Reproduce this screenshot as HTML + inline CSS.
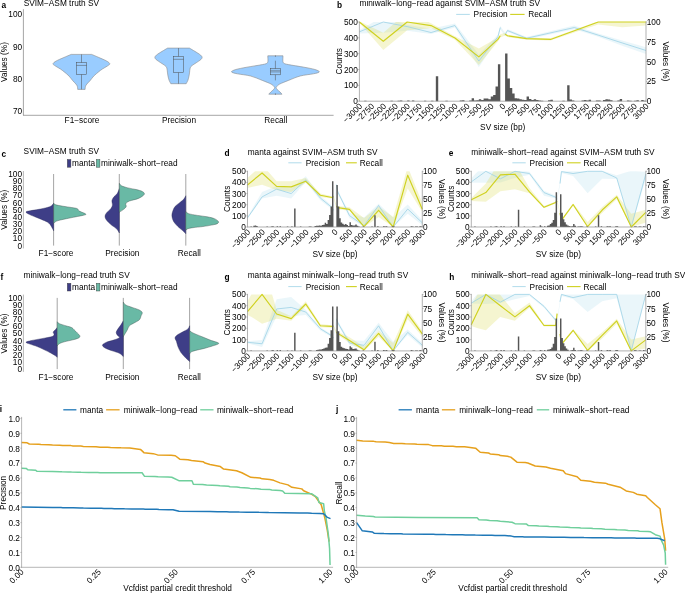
<!DOCTYPE html>
<html lang="en">
<head>
<meta charset="utf-8">
<title>SV benchmark figure</title>
<style>
html,body{margin:0;padding:0;background:#fff;}
body{width:685px;height:594px;overflow:hidden;}
svg{display:block;}
svg text{font-family:"Liberation Sans",sans-serif;fill:#000000;}
</style>
</head>
<body>
<svg width="685" height="594" viewBox="0 0 685 594">
<rect width="685" height="594" fill="#ffffff"/>
<text x="1.6" y="7.6" font-size="8.3" font-weight="bold">a</text>
<text x="23.7" y="5.9" font-size="8.3">SVIM−ASM truth SV</text>
<line x1="23.4" y1="9.2" x2="23.4" y2="115.3" stroke="#808080" stroke-width="0.7"/>
<line x1="23.05" y1="115.3" x2="333.6" y2="115.3" stroke="#808080" stroke-width="0.7"/>
<text x="22.2" y="17.2" font-size="8.3" text-anchor="end">100</text>
<text x="22.2" y="49.5" font-size="8.3" text-anchor="end">90</text>
<text x="22.2" y="81.8" font-size="8.3" text-anchor="end">80</text>
<text x="22.2" y="114.1" font-size="8.3" text-anchor="end">70</text>
<text x="7" y="62" font-size="8.3" text-anchor="middle" transform="rotate(-90 7 62)">Values (%)</text>
<text x="82" y="122.6" font-size="8.3" text-anchor="middle">F1−score</text>
<text x="179" y="122.6" font-size="8.3" text-anchor="middle">Precision</text>
<text x="275.9" y="122.6" font-size="8.3" text-anchor="middle">Recall</text>
<path d="M71.2,54.4C69.98,54.92 66.4,56.4 63.9,57.5C61.4,58.6 58.02,59.95 56.2,61C54.38,62.05 53.13,62.97 53,63.8C52.87,64.63 54.17,65.13 55.4,66C56.63,66.87 58.97,68.05 60.4,69C61.83,69.95 62.57,70.53 64,71.7C65.43,72.87 67.57,74.53 69,76C70.43,77.47 71.45,79.17 72.6,80.5C73.75,81.83 75.12,83.03 75.9,84C76.68,84.97 77.02,85.58 77.3,86.3C77.58,87.02 77.53,87.78 77.6,88.3C77.67,88.82 77.68,89.22 77.7,89.4L85.1,89.4C85.12,89.22 85.13,88.82 85.2,88.3C85.27,87.78 85.22,87.02 85.5,86.3C85.78,85.58 86.12,84.97 86.9,84C87.68,83.03 89.05,81.83 90.2,80.5C91.35,79.17 92.37,77.47 93.8,76C95.23,74.53 97.37,72.87 98.8,71.7C100.23,70.53 100.97,69.95 102.4,69C103.83,68.05 106.17,66.87 107.4,66C108.63,65.13 109.93,64.63 109.8,63.8C109.67,62.97 108.42,62.05 106.6,61C104.78,59.95 101.4,58.6 98.9,57.5C96.4,56.4 92.82,54.92 91.6,54.4Z" fill="#99ccff" stroke="#8a8a8a" stroke-width="0.6" stroke-linejoin="round"/>
<path d="M167.6,48.1C166.92,48.5 164.78,49.73 163.5,50.5C162.22,51.27 161.1,51.92 159.9,52.7C158.7,53.48 157.13,54.45 156.3,55.2C155.47,55.95 154.93,56.48 154.9,57.2C154.87,57.92 155.12,58.57 156.1,59.5C157.08,60.43 159.33,61.8 160.8,62.8C162.27,63.8 163.9,64.65 164.9,65.5C165.9,66.35 166.37,66.67 166.8,67.9C167.23,69.13 167.27,71.38 167.5,72.9C167.73,74.42 167.92,75.73 168.2,77C168.48,78.27 168.87,79.58 169.2,80.5C169.53,81.42 169.93,81.97 170.2,82.5C170.47,83.03 170.7,83.5 170.8,83.7L186.2,83.7C186.3,83.5 186.53,83.03 186.8,82.5C187.07,81.97 187.47,81.42 187.8,80.5C188.13,79.58 188.52,78.27 188.8,77C189.08,75.73 189.27,74.42 189.5,72.9C189.73,71.38 189.77,69.13 190.2,67.9C190.63,66.67 191.1,66.35 192.1,65.5C193.1,64.65 194.73,63.8 196.2,62.8C197.67,61.8 199.92,60.43 200.9,59.5C201.88,58.57 202.13,57.92 202.1,57.2C202.07,56.48 201.53,55.95 200.7,55.2C199.87,54.45 198.3,53.48 197.1,52.7C195.9,51.92 194.78,51.27 193.5,50.5C192.22,49.73 190.08,48.5 189.4,48.1Z" fill="#99ccff" stroke="#8a8a8a" stroke-width="0.6" stroke-linejoin="round"/>
<path d="M267.8,55.8C267.82,56.25 267.88,57.57 267.9,58.5C267.92,59.43 268.08,60.6 267.9,61.4C267.72,62.2 267.72,62.77 266.8,63.3C265.88,63.83 265.72,63.95 262.4,64.6C259.08,65.25 251.32,66.38 246.9,67.2C242.48,68.02 238.47,68.72 235.9,69.5C233.33,70.28 231.25,71.18 231.5,71.9C231.75,72.62 234.22,73.12 237.4,73.8C240.58,74.48 246.45,74.9 250.6,76C254.75,77.1 258.9,79.07 262.3,80.4C265.7,81.73 269.08,83.02 271,84C272.92,84.98 273.18,85.68 273.8,86.3C274.42,86.92 274.73,87.17 274.7,87.7C274.67,88.23 274.25,88.78 273.6,89.5C272.95,90.22 271.6,91.22 270.8,92C270,92.78 269.13,93.83 268.8,94.2L282,94.2C281.67,93.83 280.8,92.78 280,92C279.2,91.22 277.85,90.22 277.2,89.5C276.55,88.78 276.13,88.23 276.1,87.7C276.07,87.17 276.38,86.92 277,86.3C277.62,85.68 277.88,84.98 279.8,84C281.72,83.02 285.1,81.73 288.5,80.4C291.9,79.07 296.05,77.1 300.2,76C304.35,74.9 310.22,74.48 313.4,73.8C316.58,73.12 319.05,72.62 319.3,71.9C319.55,71.18 317.47,70.28 314.9,69.5C312.33,68.72 308.32,68.02 303.9,67.2C299.48,66.38 291.72,65.25 288.4,64.6C285.08,63.95 284.92,63.83 284,63.3C283.08,62.77 283.08,62.2 282.9,61.4C282.72,60.6 282.88,59.43 282.9,58.5C282.92,57.57 282.98,56.25 283,55.8Z" fill="#99ccff" stroke="#8a8a8a" stroke-width="0.6" stroke-linejoin="round"/>
<line x1="81.5" y1="54.4" x2="81.5" y2="62.6" stroke="#4a4a4a" stroke-width="0.5"/>
<line x1="81.5" y1="74.5" x2="81.5" y2="89.4" stroke="#4a4a4a" stroke-width="0.5"/>
<rect x="76.3" y="62.6" width="10.4" height="11.9" fill="none" stroke="#4a4a4a" stroke-width="0.5"/>
<line x1="76.3" y1="65.4" x2="86.7" y2="65.4" stroke="#4a4a4a" stroke-width="0.5"/>
<line x1="178.5" y1="48.1" x2="178.5" y2="56.3" stroke="#4a4a4a" stroke-width="0.5"/>
<line x1="178.5" y1="72.6" x2="178.5" y2="83.7" stroke="#4a4a4a" stroke-width="0.5"/>
<rect x="173.3" y="56.3" width="10.4" height="16.3" fill="none" stroke="#4a4a4a" stroke-width="0.5"/>
<line x1="173.3" y1="59.3" x2="183.7" y2="59.3" stroke="#4a4a4a" stroke-width="0.5"/>
<line x1="275.4" y1="60.7" x2="275.4" y2="68.7" stroke="#4a4a4a" stroke-width="0.5"/>
<line x1="275.4" y1="74.8" x2="275.4" y2="80.4" stroke="#4a4a4a" stroke-width="0.5"/>
<rect x="270.3" y="68.7" width="10.2" height="6.1" fill="none" stroke="#4a4a4a" stroke-width="0.5"/>
<line x1="270.3" y1="71.9" x2="280.5" y2="71.9" stroke="#4a4a4a" stroke-width="0.5"/>
<line x1="270.3" y1="70.4" x2="280.5" y2="70.4" stroke="#4a4a4a" stroke-width="0.4"/>
<circle cx="275.4" cy="55.9" r="0.5" fill="#4a4a4a"/>
<circle cx="275.4" cy="94.1" r="0.5" fill="#4a4a4a"/>
<text x="337" y="8.4" font-size="8.3" font-weight="bold">b</text>
<text x="359.5" y="5.9" font-size="8.3">miniwalk−long−read against SVIM−ASM truth SV</text>
<line x1="456.2" y1="14.4" x2="469.8" y2="14.4" stroke="#9dd2e6" stroke-width="0.8"/>
<text x="473.6" y="17.3" font-size="8.3">Precision</text>
<line x1="510.2" y1="14.4" x2="524.6" y2="14.4" stroke="#cfd11f" stroke-width="1.1"/>
<text x="528.2" y="17.3" font-size="8.3">Recall</text>
<clipPath id="cp_b"><rect x="359.4" y="22" width="286.6" height="79.2"/></clipPath>
<g clip-path="url(#cp_b)">
<polygon points="359.4,30.16 383.28,16.46 407.17,24.85 431.05,28.81 454.93,23.58 478.82,54.47 497.92,34.67 500.31,25.96 505.09,33.09 507.48,29.13 526.58,37.05 574.35,25.56 598.23,33.48 622.12,40.61 646,47.34 646,54.08 622.12,45.76 598.23,36.65 574.35,29.13 526.58,39.42 507.48,31.9 505.09,36.26 500.31,29.13 497.92,38.63 478.82,67.14 454.93,27.54 431.05,33.88 407.17,30.79 383.28,32.77 359.4,33.4" fill="#a9d8ea" fill-opacity="0.24"/>
<polygon points="359.4,21.21 383.28,32.77 407.17,12.5 431.05,23.19 454.93,36.26 478.82,48.53 497.92,37.44 500.31,34.28 505.09,32.69 507.48,34.67 526.58,37.44 550.47,38.24 598.23,21.21 622.12,21.21 646,21.21 646,25.56 622.12,27.23 598.23,24.38 550.47,40.61 526.58,39.82 507.48,37.05 505.09,35.46 500.31,37.44 497.92,41.4 478.82,64.93 454.93,39.82 431.05,28.34 407.17,30.16 383.28,49.88 359.4,22.79" fill="#d9db50" fill-opacity="0.27"/>
</g>
<polyline points="359.4,31.82 383.28,22 407.17,26.59 431.05,32.53 454.93,25.56 478.82,61.05 497.92,36.73 500.31,27.54" fill="none" stroke="#9dd2e6" stroke-width="0.8" stroke-linejoin="round"/>
<polyline points="505.09,34.67 507.48,30.55 526.58,38.24 574.35,27.54 598.23,35.15 622.12,42.91 646,50.51" fill="none" stroke="#9dd2e6" stroke-width="0.8" stroke-linejoin="round"/>
<polyline points="359.4,22 383.28,41.32 407.17,22 431.05,25.56 454.93,38 478.82,56.85 497.92,39.42 500.31,35.78" fill="none" stroke="#cfd11f" stroke-width="1.15" stroke-linejoin="round"/>
<polyline points="505.09,34.12 507.48,35.78 526.58,38.63 550.47,39.42 598.23,22 646,22" fill="none" stroke="#cfd11f" stroke-width="1.15" stroke-linejoin="round"/>
<path d="M364.18,101.2h2.39v-0.45h-2.39zM390.45,101.2h2.39v-0.45h-2.39zM397.61,101.2h2.39v-0.45h-2.39zM400,101.2h2.39v-0.8h-2.39zM407.17,101.2h2.39v-0.8h-2.39zM411.94,101.2h2.39v-0.8h-2.39zM423.88,101.2h2.39v-0.45h-2.39zM431.05,101.2h2.39v-0.45h-2.39zM435.83,101.2h2.39v-25h-2.39zM445.38,101.2h2.39v-0.45h-2.39zM459.71,101.2h2.39v-0.6h-2.39zM462.1,101.2h2.39v-1h-2.39zM469.26,101.2h2.39v-0.8h-2.39zM471.65,101.2h2.39v-2.9h-2.39zM474.04,101.2h2.39v-0.6h-2.39zM476.43,101.2h2.39v-1h-2.39zM478.82,101.2h2.39v-1.9h-2.39zM481.2,101.2h2.39v-1.2h-2.39zM483.59,101.2h2.39v-2.6h-2.39zM485.98,101.2h2.39v-2.6h-2.39zM488.37,101.2h2.39v-1.9h-2.39zM490.76,101.2h2.39v-4.8h-2.39zM493.15,101.2h2.39v-6.3h-2.39zM495.53,101.2h2.39v-14.6h-2.39zM497.92,101.2h2.39v-37h-2.39zM505.09,101.2h2.39v-47.6h-2.39zM507.48,101.2h2.39v-22.8h-2.39zM509.87,101.2h2.39v-13.1h-2.39zM512.25,101.2h2.39v-7.7h-2.39zM514.64,101.2h2.39v-2.9h-2.39zM517.03,101.2h2.39v-2.6h-2.39zM519.42,101.2h2.39v-1.9h-2.39zM521.81,101.2h2.39v-1.5h-2.39zM524.19,101.2h2.39v-1.2h-2.39zM526.58,101.2h2.39v-4.8h-2.39zM528.97,101.2h2.39v-2.2h-2.39zM531.36,101.2h2.39v-1.2h-2.39zM533.75,101.2h2.39v-1.9h-2.39zM536.14,101.2h2.39v-1.2h-2.39zM538.52,101.2h2.39v-0.8h-2.39zM540.91,101.2h2.39v-0.45h-2.39zM548.08,101.2h2.39v-1h-2.39zM550.47,101.2h2.39v-1.5h-2.39zM562.41,101.2h2.39v-0.45h-2.39zM567.18,101.2h2.39v-16h-2.39zM569.57,101.2h2.39v-1.6h-2.39zM571.96,101.2h2.39v-0.8h-2.39zM581.51,101.2h2.39v-0.8h-2.39zM583.9,101.2h2.39v-1.3h-2.39zM586.29,101.2h2.39v-0.8h-2.39zM588.68,101.2h2.39v-1.5h-2.39zM595.85,101.2h2.39v-0.8h-2.39zM598.23,101.2h2.39v-0.8h-2.39zM603.01,101.2h2.39v-1.2h-2.39zM605.4,101.2h2.39v-2h-2.39zM607.79,101.2h2.39v-1.6h-2.39zM610.17,101.2h2.39v-1h-2.39zM617.34,101.2h2.39v-0.8h-2.39zM619.73,101.2h2.39v-2.2h-2.39zM626.89,101.2h2.39v-0.8h-2.39zM629.28,101.2h2.39v-0.45h-2.39zM634.06,101.2h2.39v-0.45h-2.39zM636.45,101.2h2.39v-1h-2.39zM641.22,101.2h2.39v-1.3h-2.39zM643.61,101.2h2.39v-0.45h-2.39z" fill="#555555" stroke="none" stroke-width="0.5"/>
<line x1="359.4" y1="21.5" x2="359.4" y2="101.55" stroke="#909090" stroke-width="0.7"/>
<line x1="646" y1="21.5" x2="646" y2="101.55" stroke="#909090" stroke-width="0.7"/>
<line x1="359.4" y1="101.2" x2="646" y2="101.2" stroke="#909090" stroke-width="0.7"/>
<text x="357.8" y="104.2" font-size="8.3" text-anchor="end">0</text>
<line x1="358.2" y1="101.2" x2="359.4" y2="101.2" stroke="#909090" stroke-width="0.6"/>
<text x="357.8" y="88.36" font-size="8.3" text-anchor="end">100</text>
<line x1="358.2" y1="85.36" x2="359.4" y2="85.36" stroke="#909090" stroke-width="0.6"/>
<text x="357.8" y="72.52" font-size="8.3" text-anchor="end">200</text>
<line x1="358.2" y1="69.52" x2="359.4" y2="69.52" stroke="#909090" stroke-width="0.6"/>
<text x="357.8" y="56.68" font-size="8.3" text-anchor="end">300</text>
<line x1="358.2" y1="53.68" x2="359.4" y2="53.68" stroke="#909090" stroke-width="0.6"/>
<text x="357.8" y="40.84" font-size="8.3" text-anchor="end">400</text>
<line x1="358.2" y1="37.84" x2="359.4" y2="37.84" stroke="#909090" stroke-width="0.6"/>
<text x="357.8" y="25" font-size="8.3" text-anchor="end">500</text>
<line x1="358.2" y1="22" x2="359.4" y2="22" stroke="#909090" stroke-width="0.6"/>
<text x="646.7" y="104.2" font-size="8.3">0</text>
<line x1="646" y1="101.2" x2="647.2" y2="101.2" stroke="#909090" stroke-width="0.6"/>
<text x="646.7" y="84.4" font-size="8.3">25</text>
<line x1="646" y1="81.4" x2="647.2" y2="81.4" stroke="#909090" stroke-width="0.6"/>
<text x="646.7" y="64.6" font-size="8.3">50</text>
<line x1="646" y1="61.6" x2="647.2" y2="61.6" stroke="#909090" stroke-width="0.6"/>
<text x="646.7" y="44.8" font-size="8.3">75</text>
<line x1="646" y1="41.8" x2="647.2" y2="41.8" stroke="#909090" stroke-width="0.6"/>
<text x="646.7" y="25" font-size="8.3">100</text>
<line x1="646" y1="22" x2="647.2" y2="22" stroke="#909090" stroke-width="0.6"/>
<text x="362.8" y="106.8" font-size="8.3" text-anchor="end" transform="rotate(-45 362.8 106.8)">−3000</text>
<text x="374.74" y="106.8" font-size="8.3" text-anchor="end" transform="rotate(-45 374.74 106.8)">−2750</text>
<text x="386.68" y="106.8" font-size="8.3" text-anchor="end" transform="rotate(-45 386.68 106.8)">−2500</text>
<text x="398.62" y="106.8" font-size="8.3" text-anchor="end" transform="rotate(-45 398.62 106.8)">−2250</text>
<text x="410.57" y="106.8" font-size="8.3" text-anchor="end" transform="rotate(-45 410.57 106.8)">−2000</text>
<text x="422.51" y="106.8" font-size="8.3" text-anchor="end" transform="rotate(-45 422.51 106.8)">−1750</text>
<text x="434.45" y="106.8" font-size="8.3" text-anchor="end" transform="rotate(-45 434.45 106.8)">−1500</text>
<text x="446.39" y="106.8" font-size="8.3" text-anchor="end" transform="rotate(-45 446.39 106.8)">−1250</text>
<text x="458.33" y="106.8" font-size="8.3" text-anchor="end" transform="rotate(-45 458.33 106.8)">−1000</text>
<text x="470.27" y="106.8" font-size="8.3" text-anchor="end" transform="rotate(-45 470.27 106.8)">−750</text>
<text x="482.22" y="106.8" font-size="8.3" text-anchor="end" transform="rotate(-45 482.22 106.8)">−500</text>
<text x="494.16" y="106.8" font-size="8.3" text-anchor="end" transform="rotate(-45 494.16 106.8)">−250</text>
<text x="506.1" y="106.8" font-size="8.3" text-anchor="end" transform="rotate(-45 506.1 106.8)">0</text>
<text x="518.04" y="106.8" font-size="8.3" text-anchor="end" transform="rotate(-45 518.04 106.8)">250</text>
<text x="529.98" y="106.8" font-size="8.3" text-anchor="end" transform="rotate(-45 529.98 106.8)">500</text>
<text x="541.92" y="106.8" font-size="8.3" text-anchor="end" transform="rotate(-45 541.92 106.8)">750</text>
<text x="553.87" y="106.8" font-size="8.3" text-anchor="end" transform="rotate(-45 553.87 106.8)">1000</text>
<text x="565.81" y="106.8" font-size="8.3" text-anchor="end" transform="rotate(-45 565.81 106.8)">1250</text>
<text x="577.75" y="106.8" font-size="8.3" text-anchor="end" transform="rotate(-45 577.75 106.8)">1500</text>
<text x="589.69" y="106.8" font-size="8.3" text-anchor="end" transform="rotate(-45 589.69 106.8)">1750</text>
<text x="601.63" y="106.8" font-size="8.3" text-anchor="end" transform="rotate(-45 601.63 106.8)">2000</text>
<text x="613.57" y="106.8" font-size="8.3" text-anchor="end" transform="rotate(-45 613.57 106.8)">2250</text>
<text x="625.52" y="106.8" font-size="8.3" text-anchor="end" transform="rotate(-45 625.52 106.8)">2500</text>
<text x="637.46" y="106.8" font-size="8.3" text-anchor="end" transform="rotate(-45 637.46 106.8)">2750</text>
<text x="649.4" y="106.8" font-size="8.3" text-anchor="end" transform="rotate(-45 649.4 106.8)">3000</text>
<text x="502.7" y="130.4" font-size="8.3" text-anchor="middle">SV size (bp)</text>
<text x="341.6" y="61.3" font-size="8.3" text-anchor="middle" transform="rotate(-90 341.6 61.3)">Counts</text>
<text x="663" y="61.4" font-size="8.3" text-anchor="middle" transform="rotate(90 663 61.4)">Values (%)</text>
<text x="1.6" y="157" font-size="8.3" font-weight="bold">c</text>
<text x="23.6" y="154" font-size="8.3">SVIM−ASM truth SV</text>
<rect x="67.3" y="159.5" width="3.6" height="7.7" fill="#3e3e87" stroke="#333" stroke-width="0.4"/>
<text x="72" y="166.3" font-size="8.3">manta</text>
<rect x="96.3" y="159.5" width="3.6" height="7.7" fill="#69b9a5" stroke="#333" stroke-width="0.4"/>
<text x="101" y="166.3" font-size="8.3">miniwalk−short−read</text>
<line x1="23.4" y1="171" x2="23.4" y2="248.4" stroke="#909090" stroke-width="0.65"/>
<text x="22" y="248.5" font-size="8.3" text-anchor="end">0</text>
<text x="22" y="241.34" font-size="8.3" text-anchor="end">10</text>
<text x="22" y="234.18" font-size="8.3" text-anchor="end">20</text>
<text x="22" y="227.02" font-size="8.3" text-anchor="end">30</text>
<text x="22" y="219.86" font-size="8.3" text-anchor="end">40</text>
<text x="22" y="212.7" font-size="8.3" text-anchor="end">50</text>
<text x="22" y="205.54" font-size="8.3" text-anchor="end">60</text>
<text x="22" y="198.38" font-size="8.3" text-anchor="end">70</text>
<text x="22" y="191.22" font-size="8.3" text-anchor="end">80</text>
<text x="22" y="184.06" font-size="8.3" text-anchor="end">90</text>
<text x="22" y="176.9" font-size="8.3" text-anchor="end">100</text>
<text x="6.9" y="209.7" font-size="8.3" text-anchor="middle" transform="rotate(-90 6.9 209.7)">Values (%)</text>
<text x="56" y="255.6" font-size="8.3" text-anchor="middle">F1−score</text>
<text x="122.4" y="255.6" font-size="8.3" text-anchor="middle">Precision</text>
<text x="189.4" y="255.6" font-size="8.3" text-anchor="middle">Recall</text>
<line x1="53.6" y1="174" x2="53.6" y2="245.6" stroke="#5a5a5a" stroke-width="0.55"/>
<path d="M53.63,203.35C53.27,203.76 52.56,205.1 51.48,205.79C50.41,206.48 49.34,206.91 47.19,207.5C45.04,208.1 41.47,208.82 38.6,209.36C35.74,209.91 32.12,210.37 30.02,210.8C27.92,211.23 26.25,211.39 26.01,211.94C25.77,212.49 27.2,213.32 28.59,214.09C29.97,214.85 32.16,215.64 34.31,216.52C36.46,217.4 39.32,218.48 41.47,219.38C43.61,220.29 45.76,221.12 47.19,221.96C48.62,222.79 49.22,223.39 50.05,224.39C50.89,225.39 51.6,226.9 52.2,227.97C52.8,229.04 53.39,230.35 53.63,230.83Z" fill="#3e3e87" stroke="#2c2c55" stroke-width="0.4" stroke-linejoin="round"/>
<path d="M53.63,203.35C53.99,203.59 54.23,204.31 55.78,204.79C57.33,205.26 60.31,205.76 62.93,206.22C65.56,206.67 69.14,207.1 71.52,207.5C73.91,207.91 75.93,208.05 77.25,208.65C78.56,209.25 77.96,210.18 79.39,211.08C80.82,211.99 85.24,213.37 85.83,214.09C86.43,214.8 84.4,214.97 82.97,215.38C81.54,215.78 79.63,216.04 77.25,216.52C74.86,217 71.52,217.64 68.66,218.24C65.8,218.83 62.22,219.55 60.07,220.1C57.92,220.65 56.85,220.98 55.78,221.53C54.7,222.08 53.99,223.08 53.63,223.39Z" fill="#69b9a5" stroke="#3a4a46" stroke-width="0.4" stroke-linejoin="round"/>
<line x1="119.3" y1="174" x2="119.3" y2="245.6" stroke="#5a5a5a" stroke-width="0.55"/>
<path d="M119.35,188.61C118.99,189.45 118.15,192.19 117.2,193.62C116.25,195.05 114.51,196.01 113.62,197.2C112.74,198.39 112.1,199.47 111.91,200.78C111.71,202.09 112.67,203.76 112.48,205.07C112.29,206.38 111.76,207.34 110.76,208.65C109.76,209.96 107.42,211.68 106.47,212.94C105.51,214.21 105.04,215.04 105.04,216.23C105.04,217.43 105.39,218.62 106.47,220.1C107.54,221.58 109.81,223.68 111.48,225.11C113.15,226.54 115.17,227.37 116.48,228.69C117.8,230 118.87,232.26 119.35,232.98Z" fill="#3e3e87" stroke="#2c2c55" stroke-width="0.4" stroke-linejoin="round"/>
<path d="M119.35,183.32C119.7,183.72 120.06,184.99 121.49,185.75C122.92,186.51 125.43,187.25 127.93,187.9C130.44,188.54 134.14,189.02 136.52,189.62C138.91,190.21 140.93,190.81 142.25,191.48C143.56,192.14 144.27,192.91 144.39,193.62C144.51,194.34 144.03,194.93 142.96,195.77C141.89,196.6 140.22,197.75 137.95,198.63C135.69,199.51 131.39,200.23 129.36,201.06C127.34,201.9 126.31,202.73 125.79,203.64C125.26,204.55 126.57,205.55 126.22,206.5C125.86,207.46 124.79,208.41 123.64,209.36C122.5,210.32 120.06,211.75 119.35,212.23Z" fill="#69b9a5" stroke="#3a4a46" stroke-width="0.4" stroke-linejoin="round"/>
<line x1="185.8" y1="174" x2="185.8" y2="245.6" stroke="#5a5a5a" stroke-width="0.55"/>
<path d="M185.78,195.77C185.42,196.37 184.7,198.15 183.63,199.35C182.56,200.54 180.77,201.73 179.34,202.92C177.91,204.12 176.12,205.19 175.04,206.5C173.97,207.81 173.42,209.25 172.9,210.8C172.37,212.35 171.78,214.02 171.9,215.81C172.02,217.59 172.61,219.74 173.61,221.53C174.62,223.32 176.36,224.99 177.91,226.54C179.46,228.09 181.6,229.64 182.92,230.83C184.23,232.02 185.3,233.22 185.78,233.69Z" fill="#3e3e87" stroke="#2c2c55" stroke-width="0.4" stroke-linejoin="round"/>
<path d="M185.78,211.51C186.26,211.87 186.73,213.01 188.64,213.66C190.55,214.3 194.13,214.85 197.23,215.38C200.33,215.9 204.38,216.26 207.25,216.81C210.11,217.36 212.54,217.88 214.4,218.67C216.26,219.45 217.93,220.69 218.41,221.53C218.88,222.36 218.41,223.08 217.26,223.68C216.12,224.27 213.92,224.63 211.54,225.11C209.15,225.58 206.05,226.11 202.95,226.54C199.85,226.97 195.44,227.33 192.93,227.68C190.43,228.04 189.12,228.28 187.92,228.69C186.73,229.09 186.14,229.88 185.78,230.12Z" fill="#69b9a5" stroke="#3a4a46" stroke-width="0.4" stroke-linejoin="round"/>
<text x="224.6" y="156.2" font-size="8.3" font-weight="bold">d</text>
<text x="247.7" y="154.5" font-size="8.3">manta against SVIM−ASM truth SV</text>
<line x1="288.3" y1="162.8" x2="301.6" y2="162.8" stroke="#9dd2e6" stroke-width="0.8"/>
<text x="305.8" y="165.7" font-size="8.3">Precision</text>
<line x1="346" y1="162.8" x2="356.8" y2="162.8" stroke="#cfd11f" stroke-width="1.1"/>
<text x="359.8" y="165.7" font-size="8.3">Recall</text>
<clipPath id="cp_d"><rect x="247.5" y="171.3" width="174.8" height="55.7"/></clipPath>
<g clip-path="url(#cp_d)">
<polygon points="247.5,216.97 262.07,191.91 276.63,186.06 291.2,188.57 305.77,176.31 320.33,195.81 331.99,205.83 333.44,208.62 336.36,183 337.81,190.24 349.47,213.07 364.03,217.53 378.6,203.77 393.17,217.53 407.73,204.44 422.3,220.32 422.3,225.33 407.73,213.63 393.17,227 378.6,210.29 364.03,227 349.47,218.09 337.81,193.58 336.36,186.34 333.44,211.96 331.99,209.18 320.33,200.26 305.77,182.05 291.2,198.59 276.63,195.81 262.07,198.59 247.5,218.65" fill="#a9d8ea" fill-opacity="0.24"/>
<polygon points="247.5,178.1 262.07,164.62 276.63,181.33 291.2,181.33 305.77,177.98 320.33,193.58 331.99,196.37 333.44,195.25 336.36,204.72 337.81,206.11 349.47,207.23 364.03,218.09 378.6,206.39 393.17,216.97 407.73,166.84 422.3,203.05 422.3,211.96 407.73,188.57 393.17,227 378.6,216.97 364.03,227 349.47,210.85 337.81,209.18 336.36,208.06 333.44,198.04 331.99,198.59 320.33,196.92 305.77,182.72 291.2,191.91 276.63,189.96 262.07,184.67 247.5,188.01" fill="#d9db50" fill-opacity="0.27"/>
</g>
<polyline points="247.5,217.81 262.07,196.92 276.63,189.12 291.2,193.58 305.77,179.93 320.33,198.04 331.99,207.5 333.44,210.29" fill="none" stroke="#9dd2e6" stroke-width="0.8" stroke-linejoin="round"/>
<polyline points="336.36,184.67 337.81,191.91 349.47,215.58 364.03,225.66 378.6,205.44 393.17,227 407.73,209.01 422.3,222.82" fill="none" stroke="#9dd2e6" stroke-width="0.8" stroke-linejoin="round"/>
<polyline points="247.5,184.95 262.07,172.97 276.63,186.34 291.2,186.9 305.77,181.33 320.33,195.25 331.99,197.48 333.44,196.53" fill="none" stroke="#cfd11f" stroke-width="1.15" stroke-linejoin="round"/>
<polyline points="336.36,206.39 337.81,207.67 349.47,209.4 364.03,226.72 378.6,210.29 393.17,227 407.73,175.2 422.3,209.18" fill="none" stroke="#cfd11f" stroke-width="1.15" stroke-linejoin="round"/>
<path d="M250.41,227h1.46v-0.45h-1.46zM253.33,227h1.46v-1.3h-1.46zM254.78,227h1.46v-1.5h-1.46zM256.24,227h1.46v-1h-1.46zM266.44,227h1.46v-0.45h-1.46zM270.81,227h1.46v-0.45h-1.46zM272.26,227h1.46v-0.8h-1.46zM276.63,227h1.46v-0.8h-1.46zM279.55,227h1.46v-0.8h-1.46zM286.83,227h1.46v-0.45h-1.46zM291.2,227h1.46v-0.45h-1.46zM294.11,227h1.46v-18.4h-1.46zM299.94,227h1.46v-0.45h-1.46zM308.68,227h1.46v-0.45h-1.46zM310.14,227h1.46v-0.45h-1.46zM314.51,227h1.46v-1h-1.46zM315.96,227h1.46v-1.2h-1.46zM317.42,227h1.46v-1.3h-1.46zM318.88,227h1.46v-1.5h-1.46zM320.33,227h1.46v-1.2h-1.46zM321.79,227h1.46v-1.9h-1.46zM323.25,227h1.46v-2.3h-1.46zM324.7,227h1.46v-4.2h-1.46zM326.16,227h1.46v-3h-1.46zM327.62,227h1.46v-6.9h-1.46zM329.07,227h1.46v-11.9h-1.46zM330.53,227h1.46v-20.4h-1.46zM331.99,227h1.46v-45.8h-1.46zM336.36,227h1.46v-41.9h-1.46zM337.81,227h1.46v-20.4h-1.46zM339.27,227h1.46v-8.8h-1.46zM340.73,227h1.46v-4.6h-1.46zM342.18,227h1.46v-3.2h-1.46zM343.64,227h1.46v-2.3h-1.46zM345.1,227h1.46v-3h-1.46zM346.55,227h1.46v-1.9h-1.46zM348.01,227h1.46v-1.1h-1.46zM349.47,227h1.46v-4.8h-1.46zM350.92,227h1.46v-1.9h-1.46zM352.38,227h1.46v-1.4h-1.46zM353.84,227h1.46v-1.4h-1.46zM355.29,227h1.46v-2.6h-1.46zM356.75,227h1.46v-1.2h-1.46zM358.21,227h1.46v-0.45h-1.46zM362.58,227h1.46v-0.45h-1.46zM371.32,227h1.46v-0.45h-1.46zM374.23,227h1.46v-11.8h-1.46zM377.14,227h1.46v-0.8h-1.46zM382.97,227h1.46v-0.8h-1.46zM384.43,227h1.46v-0.45h-1.46zM385.88,227h1.46v-0.8h-1.46zM391.71,227h1.46v-0.8h-1.46zM393.17,227h1.46v-0.8h-1.46zM410.65,227h1.46v-0.8h-1.46zM412.1,227h1.46v-0.45h-1.46zM415.02,227h1.46v-0.45h-1.46zM416.47,227h1.46v-0.45h-1.46zM419.39,227h1.46v-0.8h-1.46zM420.84,227h1.46v-0.45h-1.46z" fill="#555555" stroke="none" stroke-width="0.5"/>
<line x1="247.5" y1="170.8" x2="247.5" y2="227.35" stroke="#909090" stroke-width="0.7"/>
<line x1="422.3" y1="170.8" x2="422.3" y2="227.35" stroke="#909090" stroke-width="0.7"/>
<line x1="247.5" y1="227" x2="422.3" y2="227" stroke="#909090" stroke-width="0.7"/>
<text x="245.9" y="230" font-size="8.3" text-anchor="end">0</text>
<line x1="246.3" y1="227" x2="247.5" y2="227" stroke="#909090" stroke-width="0.6"/>
<text x="245.9" y="218.86" font-size="8.3" text-anchor="end">100</text>
<line x1="246.3" y1="215.86" x2="247.5" y2="215.86" stroke="#909090" stroke-width="0.6"/>
<text x="245.9" y="207.72" font-size="8.3" text-anchor="end">200</text>
<line x1="246.3" y1="204.72" x2="247.5" y2="204.72" stroke="#909090" stroke-width="0.6"/>
<text x="245.9" y="196.58" font-size="8.3" text-anchor="end">300</text>
<line x1="246.3" y1="193.58" x2="247.5" y2="193.58" stroke="#909090" stroke-width="0.6"/>
<text x="245.9" y="185.44" font-size="8.3" text-anchor="end">400</text>
<line x1="246.3" y1="182.44" x2="247.5" y2="182.44" stroke="#909090" stroke-width="0.6"/>
<text x="245.9" y="174.3" font-size="8.3" text-anchor="end">500</text>
<line x1="246.3" y1="171.3" x2="247.5" y2="171.3" stroke="#909090" stroke-width="0.6"/>
<text x="423" y="230" font-size="8.3">0</text>
<line x1="422.3" y1="227" x2="423.5" y2="227" stroke="#909090" stroke-width="0.6"/>
<text x="423" y="216.07" font-size="8.3">25</text>
<line x1="422.3" y1="213.07" x2="423.5" y2="213.07" stroke="#909090" stroke-width="0.6"/>
<text x="423" y="202.15" font-size="8.3">50</text>
<line x1="422.3" y1="199.15" x2="423.5" y2="199.15" stroke="#909090" stroke-width="0.6"/>
<text x="423" y="188.23" font-size="8.3">75</text>
<line x1="422.3" y1="185.23" x2="423.5" y2="185.23" stroke="#909090" stroke-width="0.6"/>
<text x="423" y="174.3" font-size="8.3">100</text>
<line x1="422.3" y1="171.3" x2="423.5" y2="171.3" stroke="#909090" stroke-width="0.6"/>
<text x="250.9" y="232.6" font-size="8.3" text-anchor="end" transform="rotate(-45 250.9 232.6)">−3000</text>
<text x="265.47" y="232.6" font-size="8.3" text-anchor="end" transform="rotate(-45 265.47 232.6)">−2500</text>
<text x="280.03" y="232.6" font-size="8.3" text-anchor="end" transform="rotate(-45 280.03 232.6)">−2000</text>
<text x="294.6" y="232.6" font-size="8.3" text-anchor="end" transform="rotate(-45 294.6 232.6)">−1500</text>
<text x="309.17" y="232.6" font-size="8.3" text-anchor="end" transform="rotate(-45 309.17 232.6)">−1000</text>
<text x="323.73" y="232.6" font-size="8.3" text-anchor="end" transform="rotate(-45 323.73 232.6)">−500</text>
<text x="338.3" y="232.6" font-size="8.3" text-anchor="end" transform="rotate(-45 338.3 232.6)">0</text>
<text x="352.87" y="232.6" font-size="8.3" text-anchor="end" transform="rotate(-45 352.87 232.6)">500</text>
<text x="367.43" y="232.6" font-size="8.3" text-anchor="end" transform="rotate(-45 367.43 232.6)">1000</text>
<text x="382" y="232.6" font-size="8.3" text-anchor="end" transform="rotate(-45 382 232.6)">1500</text>
<text x="396.57" y="232.6" font-size="8.3" text-anchor="end" transform="rotate(-45 396.57 232.6)">2000</text>
<text x="411.13" y="232.6" font-size="8.3" text-anchor="end" transform="rotate(-45 411.13 232.6)">2500</text>
<text x="425.7" y="232.6" font-size="8.3" text-anchor="end" transform="rotate(-45 425.7 232.6)">3000</text>
<text x="335" y="257.3" font-size="8.3" text-anchor="middle">SV size (bp)</text>
<text x="229.9" y="198.85" font-size="8.3" text-anchor="middle" transform="rotate(-90 229.9 198.85)">Counts</text>
<text x="438.5" y="198.95" font-size="8.3" text-anchor="middle" transform="rotate(90 438.5 198.95)">Values (%)</text>
<text x="448.8" y="156.2" font-size="8.3" font-weight="bold">e</text>
<text x="471.3" y="154.5" font-size="8.3">miniwalk−short−read against SVIM−ASM truth SV</text>
<line x1="512.4" y1="162.8" x2="525.7" y2="162.8" stroke="#9dd2e6" stroke-width="0.8"/>
<text x="529.6" y="165.7" font-size="8.3">Precision</text>
<line x1="567" y1="162.8" x2="580.6" y2="162.8" stroke="#cfd11f" stroke-width="1.1"/>
<text x="583.4" y="165.7" font-size="8.3">Recall</text>
<clipPath id="cp_e"><rect x="471.3" y="171.3" width="174.5" height="55.7"/></clipPath>
<g clip-path="url(#cp_e)">
<polygon points="471.3,178.15 485.84,162.94 500.38,169.07 514.92,169.07 529.47,171.86 544.01,190.8 555.64,195.81 557.1,197.48 560,181.88 561.46,170.74 573.09,170.74 587.63,170.74 602.17,170.74 616.72,175.2 631.26,170.74 645.8,171.86 645.8,179.1 631.26,227 616.72,179.1 602.17,178.71 587.63,193.13 573.09,175.98 561.46,172.97 560,185.23 557.1,200.82 555.64,198.59 544.01,195.81 529.47,174.86 514.92,177.98 500.38,182.44 485.84,182.72 471.3,182.72" fill="#a9d8ea" fill-opacity="0.24"/>
<polygon points="471.3,198.04 485.84,183.39 500.38,160.44 514.92,162.67 529.47,188.01 544.01,206.11 555.64,201.38 557.1,199.71 560,211.96 561.46,219.2 573.09,203.33 587.63,221.99 602.17,206.95 616.72,194.69 631.26,213.63 645.8,209.73 645.8,222.54 631.26,227 616.72,199.15 602.17,213.07 587.63,227 573.09,205.83 561.46,221.43 560,214.19 557.1,201.94 555.64,203.61 544.01,208.34 529.47,193.25 514.92,189.29 500.38,191.35 485.84,201.77 471.3,201.1" fill="#d9db50" fill-opacity="0.27"/>
</g>
<polyline points="471.3,181.88 485.84,171.3 500.38,178.82 514.92,171.3 529.47,173.53 544.01,192.58 555.64,197.2 557.1,199.15" fill="none" stroke="#9dd2e6" stroke-width="0.8" stroke-linejoin="round"/>
<polyline points="560,183.55 561.46,171.58 573.09,173.53 587.63,171.3 602.17,171.3 616.72,177.98 631.26,227 645.8,174.09" fill="none" stroke="#9dd2e6" stroke-width="0.8" stroke-linejoin="round"/>
<polyline points="471.3,199.82 485.84,192.58 500.38,174.86 514.92,174.2 529.47,191.91 544.01,207.28 555.64,202.49 557.1,200.82" fill="none" stroke="#cfd11f" stroke-width="1.15" stroke-linejoin="round"/>
<polyline points="560,213.07 561.46,220.32 573.09,204.5 587.63,226.72 602.17,210.01 616.72,196.81 631.26,227 645.8,212.3" fill="none" stroke="#cfd11f" stroke-width="1.15" stroke-linejoin="round"/>
<path d="M474.21,227h1.45v-0.45h-1.45zM490.2,227h1.45v-0.45h-1.45zM494.57,227h1.45v-0.45h-1.45zM496.02,227h1.45v-0.8h-1.45zM500.38,227h1.45v-0.8h-1.45zM503.29,227h1.45v-0.8h-1.45zM510.56,227h1.45v-0.45h-1.45zM514.92,227h1.45v-0.45h-1.45zM517.83,227h1.45v-17.2h-1.45zM523.65,227h1.45v-0.45h-1.45zM532.38,227h1.45v-0.45h-1.45zM533.83,227h1.45v-0.45h-1.45zM539.65,227h1.45v-1.8h-1.45zM541.1,227h1.45v-0.45h-1.45zM544.01,227h1.45v-0.8h-1.45zM546.92,227h1.45v-1.2h-1.45zM548.37,227h1.45v-1.6h-1.45zM549.83,227h1.45v-3h-1.45zM551.28,227h1.45v-4.2h-1.45zM552.73,227h1.45v-7.1h-1.45zM554.19,227h1.45v-14.2h-1.45zM555.64,227h1.45v-34.8h-1.45zM560,227h1.45v-32.8h-1.45zM561.46,227h1.45v-14.2h-1.45zM562.91,227h1.45v-7.7h-1.45zM564.37,227h1.45v-4.8h-1.45zM565.82,227h1.45v-2.4h-1.45zM567.27,227h1.45v-1.5h-1.45zM568.73,227h1.45v-1h-1.45zM570.18,227h1.45v-0.45h-1.45zM571.64,227h1.45v-0.8h-1.45zM573.09,227h1.45v-2.9h-1.45zM574.55,227h1.45v-1.2h-1.45zM577.45,227h1.45v-0.45h-1.45zM578.91,227h1.45v-0.45h-1.45zM580.36,227h1.45v-0.8h-1.45zM581.82,227h1.45v-0.45h-1.45zM586.18,227h1.45v-0.45h-1.45zM594.9,227h1.45v-0.45h-1.45zM597.81,227h1.45v-11.8h-1.45zM600.72,227h1.45v-0.8h-1.45zM606.54,227h1.45v-0.8h-1.45zM607.99,227h1.45v-0.45h-1.45zM609.45,227h1.45v-0.8h-1.45zM615.26,227h1.45v-0.8h-1.45zM616.72,227h1.45v-0.8h-1.45zM634.17,227h1.45v-0.8h-1.45zM635.62,227h1.45v-0.45h-1.45zM638.53,227h1.45v-0.45h-1.45zM639.98,227h1.45v-0.45h-1.45zM642.89,227h1.45v-0.8h-1.45zM644.35,227h1.45v-0.45h-1.45z" fill="#555555" stroke="none" stroke-width="0.5"/>
<line x1="471.3" y1="170.8" x2="471.3" y2="227.35" stroke="#909090" stroke-width="0.7"/>
<line x1="645.8" y1="170.8" x2="645.8" y2="227.35" stroke="#909090" stroke-width="0.7"/>
<line x1="471.3" y1="227" x2="645.8" y2="227" stroke="#909090" stroke-width="0.7"/>
<text x="469.7" y="230" font-size="8.3" text-anchor="end">0</text>
<line x1="470.1" y1="227" x2="471.3" y2="227" stroke="#909090" stroke-width="0.6"/>
<text x="469.7" y="218.86" font-size="8.3" text-anchor="end">100</text>
<line x1="470.1" y1="215.86" x2="471.3" y2="215.86" stroke="#909090" stroke-width="0.6"/>
<text x="469.7" y="207.72" font-size="8.3" text-anchor="end">200</text>
<line x1="470.1" y1="204.72" x2="471.3" y2="204.72" stroke="#909090" stroke-width="0.6"/>
<text x="469.7" y="196.58" font-size="8.3" text-anchor="end">300</text>
<line x1="470.1" y1="193.58" x2="471.3" y2="193.58" stroke="#909090" stroke-width="0.6"/>
<text x="469.7" y="185.44" font-size="8.3" text-anchor="end">400</text>
<line x1="470.1" y1="182.44" x2="471.3" y2="182.44" stroke="#909090" stroke-width="0.6"/>
<text x="469.7" y="174.3" font-size="8.3" text-anchor="end">500</text>
<line x1="470.1" y1="171.3" x2="471.3" y2="171.3" stroke="#909090" stroke-width="0.6"/>
<text x="646.5" y="230" font-size="8.3">0</text>
<line x1="645.8" y1="227" x2="647" y2="227" stroke="#909090" stroke-width="0.6"/>
<text x="646.5" y="216.07" font-size="8.3">25</text>
<line x1="645.8" y1="213.07" x2="647" y2="213.07" stroke="#909090" stroke-width="0.6"/>
<text x="646.5" y="202.15" font-size="8.3">50</text>
<line x1="645.8" y1="199.15" x2="647" y2="199.15" stroke="#909090" stroke-width="0.6"/>
<text x="646.5" y="188.23" font-size="8.3">75</text>
<line x1="645.8" y1="185.23" x2="647" y2="185.23" stroke="#909090" stroke-width="0.6"/>
<text x="646.5" y="174.3" font-size="8.3">100</text>
<line x1="645.8" y1="171.3" x2="647" y2="171.3" stroke="#909090" stroke-width="0.6"/>
<text x="474.7" y="232.6" font-size="8.3" text-anchor="end" transform="rotate(-45 474.7 232.6)">−3000</text>
<text x="489.24" y="232.6" font-size="8.3" text-anchor="end" transform="rotate(-45 489.24 232.6)">−2500</text>
<text x="503.78" y="232.6" font-size="8.3" text-anchor="end" transform="rotate(-45 503.78 232.6)">−2000</text>
<text x="518.32" y="232.6" font-size="8.3" text-anchor="end" transform="rotate(-45 518.32 232.6)">−1500</text>
<text x="532.87" y="232.6" font-size="8.3" text-anchor="end" transform="rotate(-45 532.87 232.6)">−1000</text>
<text x="547.41" y="232.6" font-size="8.3" text-anchor="end" transform="rotate(-45 547.41 232.6)">−500</text>
<text x="561.95" y="232.6" font-size="8.3" text-anchor="end" transform="rotate(-45 561.95 232.6)">0</text>
<text x="576.49" y="232.6" font-size="8.3" text-anchor="end" transform="rotate(-45 576.49 232.6)">500</text>
<text x="591.03" y="232.6" font-size="8.3" text-anchor="end" transform="rotate(-45 591.03 232.6)">1000</text>
<text x="605.57" y="232.6" font-size="8.3" text-anchor="end" transform="rotate(-45 605.57 232.6)">1500</text>
<text x="620.12" y="232.6" font-size="8.3" text-anchor="end" transform="rotate(-45 620.12 232.6)">2000</text>
<text x="634.66" y="232.6" font-size="8.3" text-anchor="end" transform="rotate(-45 634.66 232.6)">2500</text>
<text x="649.2" y="232.6" font-size="8.3" text-anchor="end" transform="rotate(-45 649.2 232.6)">3000</text>
<text x="558.4" y="257.3" font-size="8.3" text-anchor="middle">SV size (bp)</text>
<text x="453.6" y="198.85" font-size="8.3" text-anchor="middle" transform="rotate(-90 453.6 198.85)">Counts</text>
<text x="662.8" y="198.95" font-size="8.3" text-anchor="middle" transform="rotate(90 662.8 198.95)">Values (%)</text>
<text x="0.6" y="280.3" font-size="8.3" font-weight="bold">f</text>
<text x="23.6" y="278.3" font-size="8.3">miniwalk−long−read truth SV</text>
<rect x="67.3" y="283.3" width="3.6" height="7.7" fill="#3e3e87" stroke="#333" stroke-width="0.4"/>
<text x="72" y="290.1" font-size="8.3">manta</text>
<rect x="96.3" y="283.3" width="3.6" height="7.7" fill="#69b9a5" stroke="#333" stroke-width="0.4"/>
<text x="101" y="290.1" font-size="8.3">miniwalk−short−read</text>
<line x1="23.4" y1="294.6" x2="23.4" y2="371.9" stroke="#909090" stroke-width="0.65"/>
<text x="22" y="372" font-size="8.3" text-anchor="end">0</text>
<text x="22" y="364.88" font-size="8.3" text-anchor="end">10</text>
<text x="22" y="357.76" font-size="8.3" text-anchor="end">20</text>
<text x="22" y="350.64" font-size="8.3" text-anchor="end">30</text>
<text x="22" y="343.52" font-size="8.3" text-anchor="end">40</text>
<text x="22" y="336.4" font-size="8.3" text-anchor="end">50</text>
<text x="22" y="329.28" font-size="8.3" text-anchor="end">60</text>
<text x="22" y="322.16" font-size="8.3" text-anchor="end">70</text>
<text x="22" y="315.04" font-size="8.3" text-anchor="end">80</text>
<text x="22" y="307.92" font-size="8.3" text-anchor="end">90</text>
<text x="22" y="300.8" font-size="8.3" text-anchor="end">100</text>
<text x="6.9" y="333.4" font-size="8.3" text-anchor="middle" transform="rotate(-90 6.9 333.4)">Values (%)</text>
<text x="56" y="380" font-size="8.3" text-anchor="middle">F1−score</text>
<text x="122.4" y="380" font-size="8.3" text-anchor="middle">Precision</text>
<text x="189.4" y="380" font-size="8.3" text-anchor="middle">Recall</text>
<line x1="57.2" y1="297.9" x2="57.2" y2="369.1" stroke="#5a5a5a" stroke-width="0.55"/>
<path d="M57.21,327.5C56.85,327.92 55.73,329.28 55.06,330.07C54.39,330.86 53.37,331.5 53.2,332.22C53.04,332.93 54.23,333.65 54.06,334.36C53.89,335.08 54.3,335.8 52.2,336.51C50.1,337.23 44.93,337.99 41.47,338.66C38.01,339.33 34.03,339.92 31.45,340.52C28.87,341.12 26.25,341.64 26.01,342.24C25.77,342.83 28.16,343.38 30.02,344.1C31.88,344.81 34.79,345.58 37.17,346.53C39.56,347.48 42.06,348.75 44.33,349.82C46.6,350.89 48.98,352.02 50.77,352.97C52.56,353.92 53.99,354.83 55.06,355.55C56.14,356.26 56.85,356.98 57.21,357.26Z" fill="#3e3e87" stroke="#2c2c55" stroke-width="0.4" stroke-linejoin="round"/>
<path d="M57.21,321.77C57.57,322.08 57.92,322.96 59.36,323.63C60.79,324.3 63.77,325.13 65.8,325.78C67.82,326.42 70.14,326.83 71.52,327.5C72.9,328.16 73.14,328.88 74.1,329.79C75.05,330.69 76.29,331.93 77.25,332.93C78.2,333.94 79.58,334.96 79.82,335.8C80.06,336.63 79.82,337.27 78.68,337.94C77.53,338.61 75.34,339.16 72.95,339.8C70.57,340.45 66.63,341.16 64.36,341.81C62.1,342.45 60.55,343 59.36,343.67C58.16,344.34 57.57,345.46 57.21,345.81Z" fill="#69b9a5" stroke="#3a4a46" stroke-width="0.4" stroke-linejoin="round"/>
<line x1="123.3" y1="297.9" x2="123.3" y2="369.1" stroke="#5a5a5a" stroke-width="0.55"/>
<path d="M123.35,320.77C122.92,321.48 121.73,323.63 120.78,325.06C119.82,326.49 118.39,328.09 117.63,329.36C116.87,330.62 116.2,331.62 116.2,332.65C116.2,333.67 117.1,334.68 117.63,335.51C118.15,336.34 120.01,336.89 119.35,337.66C118.68,338.42 115.77,339.33 113.62,340.09C111.48,340.85 108.33,341.4 106.47,342.24C104.61,343.07 102.7,344.14 102.46,345.1C102.22,346.05 103.41,347.01 105.04,347.96C106.66,348.91 109.81,349.94 112.19,350.82C114.58,351.71 117.49,352.3 119.35,353.26C121.21,354.21 122.69,356 123.35,356.55Z" fill="#3e3e87" stroke="#2c2c55" stroke-width="0.4" stroke-linejoin="round"/>
<path d="M123.35,302.16C123.76,302.64 124.31,304.14 125.79,305.03C127.27,305.91 129.96,306.62 132.23,307.46C134.49,308.29 137.71,309.18 139.38,310.04C141.05,310.89 141.96,311.66 142.25,312.61C142.53,313.57 141.58,314.57 141.1,315.76C140.62,316.95 140.62,318.53 139.38,319.77C138.14,321.01 135.33,322.2 133.66,323.2C131.99,324.2 130.44,324.63 129.36,325.78C128.29,326.92 127.93,328.76 127.22,330.07C126.5,331.38 125.72,332.58 125.07,333.65C124.43,334.72 123.64,336.03 123.35,336.51Z" fill="#69b9a5" stroke="#3a4a46" stroke-width="0.4" stroke-linejoin="round"/>
<line x1="189.6" y1="297.9" x2="189.6" y2="369.1" stroke="#5a5a5a" stroke-width="0.55"/>
<path d="M189.64,325.78C189.36,326.3 189.05,327.92 187.92,328.93C186.8,329.93 184.7,330.76 182.92,331.79C181.13,332.81 178.5,334.05 177.19,335.08C175.88,336.11 175.16,336.87 175.04,337.94C174.93,339.02 176,340.09 176.48,341.52C176.95,342.95 177.19,344.74 177.91,346.53C178.62,348.32 179.58,350.47 180.77,352.25C181.96,354.04 183.58,355.71 185.06,357.26C186.54,358.81 188.88,360.84 189.64,361.56Z" fill="#3e3e87" stroke="#2c2c55" stroke-width="0.4" stroke-linejoin="round"/>
<path d="M189.64,330.79C190.19,331.14 190.95,331.98 192.93,332.93C194.91,333.89 198.66,335.32 201.52,336.51C204.38,337.7 207.25,338.97 210.11,340.09C212.97,341.21 218.22,342.28 218.69,343.24C219.17,344.19 215.35,344.96 212.97,345.81C210.58,346.67 207.25,347.63 204.38,348.39C201.52,349.15 197.94,349.82 195.8,350.39C193.65,350.97 192.53,351.28 191.5,351.82C190.48,352.37 189.95,353.38 189.64,353.69Z" fill="#69b9a5" stroke="#3a4a46" stroke-width="0.4" stroke-linejoin="round"/>
<text x="224.6" y="279.9" font-size="8.3" font-weight="bold">g</text>
<text x="247.7" y="278.2" font-size="8.3">manta against miniwalk−long−read truth SV</text>
<line x1="288.3" y1="286.6" x2="301.6" y2="286.6" stroke="#9dd2e6" stroke-width="0.8"/>
<text x="305.8" y="289.5" font-size="8.3">Precision</text>
<line x1="346" y1="286.6" x2="356.8" y2="286.6" stroke="#cfd11f" stroke-width="1.1"/>
<text x="359.8" y="289.5" font-size="8.3">Recall</text>
<clipPath id="cp_g"><rect x="247.5" y="294.4" width="174.8" height="56.5"/></clipPath>
<g clip-path="url(#cp_g)">
<polygon points="247.5,341.29 262.07,339.88 276.63,299.15 291.2,296.89 305.77,309.65 320.33,327.17 331.99,334.51 333.44,336.77 336.36,317 337.81,320.95 349.47,340.16 364.03,340.73 378.6,322.65 393.17,341.86 407.73,329.43 422.3,342.99 422.3,347.51 407.73,335.08 393.17,350.9 378.6,330.56 364.03,348.64 349.47,345.25 337.81,324.34 336.36,320.39 333.44,339.6 331.99,337.34 320.33,330.56 305.77,314.91 291.2,316.21 276.63,316.21 262.07,347.11 247.5,343.16" fill="#a9d8ea" fill-opacity="0.24"/>
<polygon points="247.5,301.18 251.58,294.12 262.07,294.12 271.97,294.12 276.63,309.65 291.2,316.21 305.77,301.18 320.33,324.06 331.99,325.19 333.44,324.91 336.36,330.56 337.81,331.69 349.47,337.34 364.03,346.38 378.6,330.56 393.17,342.99 407.73,310.22 422.3,331.12 422.3,336.77 407.73,319.26 393.17,350.9 378.6,336.77 364.03,350.9 349.47,342.99 337.81,335.08 336.36,333.95 333.44,327.17 331.99,327.73 320.33,327.17 305.77,306.38 291.2,320.84 276.63,318.86 271.97,320.39 262.07,323.78 251.58,317 247.5,314.91" fill="#d9db50" fill-opacity="0.27"/>
</g>
<polyline points="247.5,342.26 262.07,343.78 276.63,308.98 291.2,307.39 305.77,312.03 320.33,328.7 331.99,335.93 333.44,337.9" fill="none" stroke="#9dd2e6" stroke-width="0.8" stroke-linejoin="round"/>
<polyline points="336.36,318.86 337.81,322.76 349.47,342.99 364.03,345.36 378.6,325.81 393.17,350.9 407.73,332.37 422.3,345.25" fill="none" stroke="#9dd2e6" stroke-width="0.8" stroke-linejoin="round"/>
<polyline points="247.5,311.63 262.07,294.4 276.63,314.01 291.2,318.58 305.77,304 320.33,325.7 331.99,326.44 333.44,326.04" fill="none" stroke="#cfd11f" stroke-width="1.15" stroke-linejoin="round"/>
<polyline points="336.36,332.25 337.81,333.38 349.47,340.5 364.03,349.77 378.6,333.38 393.17,350.9 407.73,314.17 422.3,333.95" fill="none" stroke="#cfd11f" stroke-width="1.15" stroke-linejoin="round"/>
<path d="M250.41,350.9h1.46v-0.45h-1.46zM266.44,350.9h1.46v-0.45h-1.46zM270.81,350.9h1.46v-0.45h-1.46zM272.26,350.9h1.46v-0.8h-1.46zM276.63,350.9h1.46v-0.8h-1.46zM279.55,350.9h1.46v-0.8h-1.46zM286.83,350.9h1.46v-0.45h-1.46zM291.2,350.9h1.46v-0.45h-1.46zM294.11,350.9h1.46v-18.2h-1.46zM299.94,350.9h1.46v-0.45h-1.46zM308.68,350.9h1.46v-0.45h-1.46zM310.14,350.9h1.46v-0.45h-1.46zM315.96,350.9h1.46v-0.8h-1.46zM317.42,350.9h1.46v-1.2h-1.46zM318.88,350.9h1.46v-1.3h-1.46zM320.33,350.9h1.46v-1.5h-1.46zM321.79,350.9h1.46v-1.8h-1.46zM323.25,350.9h1.46v-2.4h-1.46zM324.7,350.9h1.46v-3.2h-1.46zM326.16,350.9h1.46v-3.5h-1.46zM327.62,350.9h1.46v-7.1h-1.46zM329.07,350.9h1.46v-13h-1.46zM330.53,350.9h1.46v-20.6h-1.46zM331.99,350.9h1.46v-44.4h-1.46zM336.36,350.9h1.46v-44.4h-1.46zM337.81,350.9h1.46v-19.7h-1.46zM339.27,350.9h1.46v-8.8h-1.46zM340.73,350.9h1.46v-4.1h-1.46zM342.18,350.9h1.46v-3.2h-1.46zM343.64,350.9h1.46v-2.7h-1.46zM345.1,350.9h1.46v-2.1h-1.46zM346.55,350.9h1.46v-1.8h-1.46zM348.01,350.9h1.46v-1.5h-1.46zM349.47,350.9h1.46v-4.7h-1.46zM350.92,350.9h1.46v-3.5h-1.46zM352.38,350.9h1.46v-1.8h-1.46zM353.84,350.9h1.46v-2.1h-1.46zM355.29,350.9h1.46v-2.4h-1.46zM356.75,350.9h1.46v-1.2h-1.46zM358.21,350.9h1.46v-0.45h-1.46zM362.58,350.9h1.46v-0.45h-1.46zM371.32,350.9h1.46v-0.45h-1.46zM374.23,350.9h1.46v-9.1h-1.46zM377.14,350.9h1.46v-0.8h-1.46zM382.97,350.9h1.46v-0.8h-1.46zM384.43,350.9h1.46v-0.45h-1.46zM385.88,350.9h1.46v-0.8h-1.46zM391.71,350.9h1.46v-0.8h-1.46zM393.17,350.9h1.46v-0.8h-1.46zM410.65,350.9h1.46v-0.8h-1.46zM412.1,350.9h1.46v-0.45h-1.46zM415.02,350.9h1.46v-0.45h-1.46zM416.47,350.9h1.46v-0.45h-1.46zM419.39,350.9h1.46v-0.8h-1.46zM420.84,350.9h1.46v-0.45h-1.46z" fill="#555555" stroke="none" stroke-width="0.5"/>
<line x1="247.5" y1="293.9" x2="247.5" y2="351.25" stroke="#909090" stroke-width="0.7"/>
<line x1="422.3" y1="293.9" x2="422.3" y2="351.25" stroke="#909090" stroke-width="0.7"/>
<line x1="247.5" y1="350.9" x2="422.3" y2="350.9" stroke="#909090" stroke-width="0.7"/>
<text x="245.9" y="353.9" font-size="8.3" text-anchor="end">0</text>
<line x1="246.3" y1="350.9" x2="247.5" y2="350.9" stroke="#909090" stroke-width="0.6"/>
<text x="245.9" y="342.6" font-size="8.3" text-anchor="end">100</text>
<line x1="246.3" y1="339.6" x2="247.5" y2="339.6" stroke="#909090" stroke-width="0.6"/>
<text x="245.9" y="331.3" font-size="8.3" text-anchor="end">200</text>
<line x1="246.3" y1="328.3" x2="247.5" y2="328.3" stroke="#909090" stroke-width="0.6"/>
<text x="245.9" y="320" font-size="8.3" text-anchor="end">300</text>
<line x1="246.3" y1="317" x2="247.5" y2="317" stroke="#909090" stroke-width="0.6"/>
<text x="245.9" y="308.7" font-size="8.3" text-anchor="end">400</text>
<line x1="246.3" y1="305.7" x2="247.5" y2="305.7" stroke="#909090" stroke-width="0.6"/>
<text x="245.9" y="297.4" font-size="8.3" text-anchor="end">500</text>
<line x1="246.3" y1="294.4" x2="247.5" y2="294.4" stroke="#909090" stroke-width="0.6"/>
<text x="423" y="353.9" font-size="8.3">0</text>
<line x1="422.3" y1="350.9" x2="423.5" y2="350.9" stroke="#909090" stroke-width="0.6"/>
<text x="423" y="339.77" font-size="8.3">25</text>
<line x1="422.3" y1="336.77" x2="423.5" y2="336.77" stroke="#909090" stroke-width="0.6"/>
<text x="423" y="325.65" font-size="8.3">50</text>
<line x1="422.3" y1="322.65" x2="423.5" y2="322.65" stroke="#909090" stroke-width="0.6"/>
<text x="423" y="311.52" font-size="8.3">75</text>
<line x1="422.3" y1="308.52" x2="423.5" y2="308.52" stroke="#909090" stroke-width="0.6"/>
<text x="423" y="297.4" font-size="8.3">100</text>
<line x1="422.3" y1="294.4" x2="423.5" y2="294.4" stroke="#909090" stroke-width="0.6"/>
<text x="250.9" y="356.5" font-size="8.3" text-anchor="end" transform="rotate(-45 250.9 356.5)">−3000</text>
<text x="265.47" y="356.5" font-size="8.3" text-anchor="end" transform="rotate(-45 265.47 356.5)">−2500</text>
<text x="280.03" y="356.5" font-size="8.3" text-anchor="end" transform="rotate(-45 280.03 356.5)">−2000</text>
<text x="294.6" y="356.5" font-size="8.3" text-anchor="end" transform="rotate(-45 294.6 356.5)">−1500</text>
<text x="309.17" y="356.5" font-size="8.3" text-anchor="end" transform="rotate(-45 309.17 356.5)">−1000</text>
<text x="323.73" y="356.5" font-size="8.3" text-anchor="end" transform="rotate(-45 323.73 356.5)">−500</text>
<text x="338.3" y="356.5" font-size="8.3" text-anchor="end" transform="rotate(-45 338.3 356.5)">0</text>
<text x="352.87" y="356.5" font-size="8.3" text-anchor="end" transform="rotate(-45 352.87 356.5)">500</text>
<text x="367.43" y="356.5" font-size="8.3" text-anchor="end" transform="rotate(-45 367.43 356.5)">1000</text>
<text x="382" y="356.5" font-size="8.3" text-anchor="end" transform="rotate(-45 382 356.5)">1500</text>
<text x="396.57" y="356.5" font-size="8.3" text-anchor="end" transform="rotate(-45 396.57 356.5)">2000</text>
<text x="411.13" y="356.5" font-size="8.3" text-anchor="end" transform="rotate(-45 411.13 356.5)">2500</text>
<text x="425.7" y="356.5" font-size="8.3" text-anchor="end" transform="rotate(-45 425.7 356.5)">3000</text>
<text x="335" y="380.2" font-size="8.3" text-anchor="middle">SV size (bp)</text>
<text x="229.9" y="322.35" font-size="8.3" text-anchor="middle" transform="rotate(-90 229.9 322.35)">Counts</text>
<text x="438.5" y="322.45" font-size="8.3" text-anchor="middle" transform="rotate(90 438.5 322.45)">Values (%)</text>
<text x="449.3" y="279.9" font-size="8.3" font-weight="bold">h</text>
<text x="471.3" y="278.2" font-size="8.3">miniwalk−short−read against miniwalk−long−read truth SV</text>
<line x1="512.4" y1="286.6" x2="525.7" y2="286.6" stroke="#9dd2e6" stroke-width="0.8"/>
<text x="529.6" y="289.5" font-size="8.3">Precision</text>
<line x1="567" y1="286.6" x2="580.6" y2="286.6" stroke="#cfd11f" stroke-width="1.1"/>
<text x="583.4" y="289.5" font-size="8.3">Recall</text>
<clipPath id="cp_h"><rect x="471.3" y="294.4" width="174.5" height="56.5"/></clipPath>
<g clip-path="url(#cp_h)">
<polygon points="471.3,301.18 477.2,294.12 485.84,294.12 500.38,294.12 514.92,294.12 529.47,294.12 544.01,305.13 555.64,318.69 557.1,319.82 560,300.05 561.46,294.12 573.09,294.12 587.63,294.12 602.17,294.12 616.72,294.12 631.26,294.12 645.8,294.12 645.8,294.96 631.26,350.9 616.72,298.35 602.17,301.18 587.63,312.03 573.09,298.92 561.46,296.09 560,303.44 557.1,323.21 555.64,321.52 544.01,307.68 529.47,296.09 514.92,299.26 500.38,303.1 485.84,304 477.2,303.84 471.3,303.72" fill="#a9d8ea" fill-opacity="0.24"/>
<polygon points="471.3,305.13 477.84,294.12 485.84,294.12 499.51,294.12 500.38,294.96 514.92,313.04 529.47,302.42 544.01,324.34 555.64,324.34 557.1,312.48 560,332.82 561.46,342.99 573.09,329.15 587.63,344.12 602.17,332.25 616.72,318.69 631.26,339.6 645.8,336.21 645.8,348.41 631.26,350.9 616.72,323.78 602.17,338.47 587.63,350.9 573.09,331.41 561.46,345.53 560,335.08 557.1,314.74 555.64,326.6 544.01,326.6 529.47,307.68 514.92,320.84 500.38,317.11 499.51,317.56 485.84,330.28 477.84,328.3 471.3,326.04" fill="#d9db50" fill-opacity="0.27"/>
</g>
<polyline points="471.3,303.1 485.84,294.4 500.38,302.14 514.92,294.4 529.47,294.4 544.01,306.38 555.64,320.16 557.1,321.52" fill="none" stroke="#9dd2e6" stroke-width="0.8" stroke-linejoin="round"/>
<polyline points="560,301.75 561.46,294.4 573.09,297.62 587.63,294.4 602.17,294.4 616.72,294.4 631.26,350.9 645.8,294.4" fill="none" stroke="#9dd2e6" stroke-width="0.8" stroke-linejoin="round"/>
<polyline points="471.3,324.74 485.84,294.4 500.38,305.7 514.92,316.89 529.47,305.7 544.01,325.47 555.64,325.47 557.1,313.61" fill="none" stroke="#cfd11f" stroke-width="1.15" stroke-linejoin="round"/>
<polyline points="560,333.95 561.46,344.29 573.09,330.28 587.63,350.5 602.17,335.36 616.72,320.95 631.26,350.9 645.8,339.88" fill="none" stroke="#cfd11f" stroke-width="1.15" stroke-linejoin="round"/>
<path d="M474.21,350.9h1.45v-0.45h-1.45zM490.2,350.9h1.45v-0.45h-1.45zM494.57,350.9h1.45v-0.45h-1.45zM496.02,350.9h1.45v-0.8h-1.45zM500.38,350.9h1.45v-0.8h-1.45zM503.29,350.9h1.45v-0.8h-1.45zM510.56,350.9h1.45v-0.45h-1.45zM514.92,350.9h1.45v-0.45h-1.45zM517.83,350.9h1.45v-14.3h-1.45zM523.65,350.9h1.45v-0.45h-1.45zM532.38,350.9h1.45v-0.45h-1.45zM533.83,350.9h1.45v-0.45h-1.45zM539.65,350.9h1.45v-0.8h-1.45zM541.1,350.9h1.45v-0.45h-1.45zM544.01,350.9h1.45v-0.8h-1.45zM546.92,350.9h1.45v-1.2h-1.45zM548.37,350.9h1.45v-1.4h-1.45zM549.83,350.9h1.45v-1.8h-1.45zM551.28,350.9h1.45v-3.5h-1.45zM552.73,350.9h1.45v-7.1h-1.45zM554.19,350.9h1.45v-13.8h-1.45zM555.64,350.9h1.45v-32.4h-1.45zM560,350.9h1.45v-32.4h-1.45zM561.46,350.9h1.45v-13h-1.45zM562.91,350.9h1.45v-7.7h-1.45zM564.37,350.9h1.45v-4.7h-1.45zM565.82,350.9h1.45v-2.4h-1.45zM567.27,350.9h1.45v-1.2h-1.45zM570.18,350.9h1.45v-0.45h-1.45zM571.64,350.9h1.45v-0.8h-1.45zM573.09,350.9h1.45v-3.2h-1.45zM574.55,350.9h1.45v-1h-1.45zM577.45,350.9h1.45v-0.45h-1.45zM578.91,350.9h1.45v-0.45h-1.45zM580.36,350.9h1.45v-0.8h-1.45zM581.82,350.9h1.45v-0.45h-1.45zM586.18,350.9h1.45v-0.45h-1.45zM594.9,350.9h1.45v-0.45h-1.45zM597.81,350.9h1.45v-8.9h-1.45zM600.72,350.9h1.45v-0.8h-1.45zM606.54,350.9h1.45v-0.8h-1.45zM607.99,350.9h1.45v-0.45h-1.45zM609.45,350.9h1.45v-0.8h-1.45zM615.26,350.9h1.45v-0.8h-1.45zM616.72,350.9h1.45v-0.8h-1.45zM634.17,350.9h1.45v-0.8h-1.45zM635.62,350.9h1.45v-0.45h-1.45zM638.53,350.9h1.45v-0.45h-1.45zM639.98,350.9h1.45v-0.45h-1.45zM642.89,350.9h1.45v-0.8h-1.45zM644.35,350.9h1.45v-0.45h-1.45z" fill="#555555" stroke="none" stroke-width="0.5"/>
<line x1="471.3" y1="293.9" x2="471.3" y2="351.25" stroke="#909090" stroke-width="0.7"/>
<line x1="645.8" y1="293.9" x2="645.8" y2="351.25" stroke="#909090" stroke-width="0.7"/>
<line x1="471.3" y1="350.9" x2="645.8" y2="350.9" stroke="#909090" stroke-width="0.7"/>
<text x="469.7" y="353.9" font-size="8.3" text-anchor="end">0</text>
<line x1="470.1" y1="350.9" x2="471.3" y2="350.9" stroke="#909090" stroke-width="0.6"/>
<text x="469.7" y="342.6" font-size="8.3" text-anchor="end">100</text>
<line x1="470.1" y1="339.6" x2="471.3" y2="339.6" stroke="#909090" stroke-width="0.6"/>
<text x="469.7" y="331.3" font-size="8.3" text-anchor="end">200</text>
<line x1="470.1" y1="328.3" x2="471.3" y2="328.3" stroke="#909090" stroke-width="0.6"/>
<text x="469.7" y="320" font-size="8.3" text-anchor="end">300</text>
<line x1="470.1" y1="317" x2="471.3" y2="317" stroke="#909090" stroke-width="0.6"/>
<text x="469.7" y="308.7" font-size="8.3" text-anchor="end">400</text>
<line x1="470.1" y1="305.7" x2="471.3" y2="305.7" stroke="#909090" stroke-width="0.6"/>
<text x="469.7" y="297.4" font-size="8.3" text-anchor="end">500</text>
<line x1="470.1" y1="294.4" x2="471.3" y2="294.4" stroke="#909090" stroke-width="0.6"/>
<text x="646.5" y="353.9" font-size="8.3">0</text>
<line x1="645.8" y1="350.9" x2="647" y2="350.9" stroke="#909090" stroke-width="0.6"/>
<text x="646.5" y="339.77" font-size="8.3">25</text>
<line x1="645.8" y1="336.77" x2="647" y2="336.77" stroke="#909090" stroke-width="0.6"/>
<text x="646.5" y="325.65" font-size="8.3">50</text>
<line x1="645.8" y1="322.65" x2="647" y2="322.65" stroke="#909090" stroke-width="0.6"/>
<text x="646.5" y="311.52" font-size="8.3">75</text>
<line x1="645.8" y1="308.52" x2="647" y2="308.52" stroke="#909090" stroke-width="0.6"/>
<text x="646.5" y="297.4" font-size="8.3">100</text>
<line x1="645.8" y1="294.4" x2="647" y2="294.4" stroke="#909090" stroke-width="0.6"/>
<text x="474.7" y="356.5" font-size="8.3" text-anchor="end" transform="rotate(-45 474.7 356.5)">−3000</text>
<text x="489.24" y="356.5" font-size="8.3" text-anchor="end" transform="rotate(-45 489.24 356.5)">−2500</text>
<text x="503.78" y="356.5" font-size="8.3" text-anchor="end" transform="rotate(-45 503.78 356.5)">−2000</text>
<text x="518.32" y="356.5" font-size="8.3" text-anchor="end" transform="rotate(-45 518.32 356.5)">−1500</text>
<text x="532.87" y="356.5" font-size="8.3" text-anchor="end" transform="rotate(-45 532.87 356.5)">−1000</text>
<text x="547.41" y="356.5" font-size="8.3" text-anchor="end" transform="rotate(-45 547.41 356.5)">−500</text>
<text x="561.95" y="356.5" font-size="8.3" text-anchor="end" transform="rotate(-45 561.95 356.5)">0</text>
<text x="576.49" y="356.5" font-size="8.3" text-anchor="end" transform="rotate(-45 576.49 356.5)">500</text>
<text x="591.03" y="356.5" font-size="8.3" text-anchor="end" transform="rotate(-45 591.03 356.5)">1000</text>
<text x="605.57" y="356.5" font-size="8.3" text-anchor="end" transform="rotate(-45 605.57 356.5)">1500</text>
<text x="620.12" y="356.5" font-size="8.3" text-anchor="end" transform="rotate(-45 620.12 356.5)">2000</text>
<text x="634.66" y="356.5" font-size="8.3" text-anchor="end" transform="rotate(-45 634.66 356.5)">2500</text>
<text x="649.2" y="356.5" font-size="8.3" text-anchor="end" transform="rotate(-45 649.2 356.5)">3000</text>
<text x="558.4" y="380.2" font-size="8.3" text-anchor="middle">SV size (bp)</text>
<text x="453.6" y="322.35" font-size="8.3" text-anchor="middle" transform="rotate(-90 453.6 322.35)">Counts</text>
<text x="662.8" y="322.45" font-size="8.3" text-anchor="middle" transform="rotate(90 662.8 322.45)">Values (%)</text>
<text x="-0.3" y="411.9" font-size="8.3" font-weight="bold">i</text>
<line x1="63.3" y1="409.8" x2="76.4" y2="409.8" stroke="#1f78b8" stroke-width="1.3"/>
<text x="80" y="412.7" font-size="8.3">manta</text>
<line x1="106.1" y1="409.8" x2="119.6" y2="409.8" stroke="#e6a01c" stroke-width="1.3"/>
<text x="123.7" y="412.7" font-size="8.3">miniwalk−long−read</text>
<line x1="200.2" y1="409.8" x2="213.5" y2="409.8" stroke="#6fcf9c" stroke-width="1.3"/>
<text x="216.9" y="412.7" font-size="8.3">miniwalk−short−read</text>
<polyline points="21.6,442.52 27.16,442.82 29.32,444.01 38.86,444.21 40.91,444.46 48.79,444.66 52.49,444.9 59.67,445.13 62.79,445.4 71.01,445.62 73.08,445.9 80.82,446.12 83.38,446.39 96.06,446.73 100.06,447.14 107.62,447.29 110.56,447.49 117.83,447.64 121.07,447.83 129.8,447.99 131.57,448.18 140.44,449.39 142.07,450.86 143.92,452.65 153.21,453.65 157.52,454.88 171.1,455.28 175.31,455.77 179.76,459.2 187.94,459.8 191.5,460.54 203.04,461.68 205.09,463.07 210.03,464.56 220.37,466.57 223.62,469.03 236.48,470.7 241.85,472.75 250.8,477.36 260,478.03 262.23,478.85 269.79,479.52 273.66,480.34 279.99,482.87 287.96,484.88 291.89,487.34 301.79,488.88 303.63,490.77 311.84,494.34 315.36,496.57 321.23,504.76 324.82,517.87 327.19,529.63 329.08,541.54" fill="none" stroke="#e6a01c" stroke-width="1.5" stroke-linejoin="round"/>
<polyline points="21.6,468.28 26.23,468.43 27.78,469.77 35.5,470.22 37.05,471.26 52.49,471.56 60.32,471.66 62,471.8 68.48,471.9 71.52,472.03 78.15,472.14 81.03,472.27 88.63,472.38 90.55,472.51 97.69,472.62 100.06,472.75 142.07,472.75 144.54,476.32 154.87,476.52 158.13,476.77 167.92,476.97 171.73,477.22 178.83,480.64 191.99,480.79 193.35,484.21 202.54,484.58 206.63,485.03 217.67,485.4 219.91,485.85 228.43,486.23 230,486.7 236.89,487.08 240.1,487.54 247.8,487.92 250.19,488.38 257.73,488.76 261,489.23 270.18,489.61 271.81,490.07 280.04,490.45 282.62,490.91 284.78,493.3 311.84,493.8 317.77,497.81 318.95,502.53 323.64,503.72 324.32,510.87 326.02,517.87 328.34,534.39 329.57,548.54 330.04,565.07" fill="none" stroke="#6fcf9c" stroke-width="1.5" stroke-linejoin="round"/>
<polyline points="21.6,507 52.49,507.44 60.97,507.53 62.79,507.64 69.79,507.73 73.08,507.84 80.26,507.93 83.38,508.04 91.61,508.13 93.68,508.24 101.41,508.33 103.97,508.43 111.8,508.52 114.27,508.63 121.68,508.72 124.57,508.83 131.69,508.92 134.86,509.03 143.42,509.12 145.16,509.23 156.9,509.36 159.06,509.53 168.55,509.66 172.96,509.82 179.14,511.31 210.03,511.61 217.5,511.68 219.81,511.76 226.63,511.83 229.59,511.91 237.9,511.98 239.37,512.06 246.82,512.13 249.16,512.21 256.06,512.27 258.94,512.36 266.81,512.42 268.72,512.5 299.61,512.95 307.57,513.12 311.66,513.32 319.73,513.49 323.7,513.7 327.41,517.42 330.5,518.61" fill="none" stroke="#1f78b8" stroke-width="1.5" stroke-linejoin="round"/>
<line x1="21.6" y1="416.9" x2="21.6" y2="567.65" stroke="#909090" stroke-width="0.65"/>
<line x1="21.25" y1="567.3" x2="333.1" y2="567.3" stroke="#909090" stroke-width="0.65"/>
<text x="20" y="570.7" font-size="8.3" text-anchor="end">0.0</text>
<line x1="20.4" y1="567.3" x2="21.6" y2="567.3" stroke="#909090" stroke-width="0.6"/>
<text x="20" y="555.81" font-size="8.3" text-anchor="end">0.1</text>
<line x1="20.4" y1="552.41" x2="21.6" y2="552.41" stroke="#909090" stroke-width="0.6"/>
<text x="20" y="540.92" font-size="8.3" text-anchor="end">0.2</text>
<line x1="20.4" y1="537.52" x2="21.6" y2="537.52" stroke="#909090" stroke-width="0.6"/>
<text x="20" y="526.03" font-size="8.3" text-anchor="end">0.3</text>
<line x1="20.4" y1="522.63" x2="21.6" y2="522.63" stroke="#909090" stroke-width="0.6"/>
<text x="20" y="511.14" font-size="8.3" text-anchor="end">0.4</text>
<line x1="20.4" y1="507.74" x2="21.6" y2="507.74" stroke="#909090" stroke-width="0.6"/>
<text x="20" y="496.25" font-size="8.3" text-anchor="end">0.5</text>
<line x1="20.4" y1="492.85" x2="21.6" y2="492.85" stroke="#909090" stroke-width="0.6"/>
<text x="20" y="481.36" font-size="8.3" text-anchor="end">0.6</text>
<line x1="20.4" y1="477.96" x2="21.6" y2="477.96" stroke="#909090" stroke-width="0.6"/>
<text x="20" y="466.47" font-size="8.3" text-anchor="end">0.7</text>
<line x1="20.4" y1="463.07" x2="21.6" y2="463.07" stroke="#909090" stroke-width="0.6"/>
<text x="20" y="451.58" font-size="8.3" text-anchor="end">0.8</text>
<line x1="20.4" y1="448.18" x2="21.6" y2="448.18" stroke="#909090" stroke-width="0.6"/>
<text x="20" y="436.69" font-size="8.3" text-anchor="end">0.9</text>
<line x1="20.4" y1="433.29" x2="21.6" y2="433.29" stroke="#909090" stroke-width="0.6"/>
<text x="20" y="421.8" font-size="8.3" text-anchor="end">1.0</text>
<line x1="20.4" y1="418.4" x2="21.6" y2="418.4" stroke="#909090" stroke-width="0.6"/>
<text x="24.2" y="572.5" font-size="8.3" text-anchor="end" transform="rotate(-45 24.2 572.5)">0.00</text>
<text x="101.42" y="572.5" font-size="8.3" text-anchor="end" transform="rotate(-45 101.42 572.5)">0.25</text>
<text x="178.65" y="572.5" font-size="8.3" text-anchor="end" transform="rotate(-45 178.65 572.5)">0.50</text>
<text x="255.87" y="572.5" font-size="8.3" text-anchor="end" transform="rotate(-45 255.87 572.5)">0.75</text>
<text x="333.1" y="572.5" font-size="8.3" text-anchor="end" transform="rotate(-45 333.1 572.5)">1.00</text>
<text x="177.55" y="591.3" font-size="8.3" text-anchor="middle">Vcfdist partial credit threshold</text>
<text x="6" y="492.85" font-size="8.3" text-anchor="middle" transform="rotate(-90 6 492.85)">Precision</text>
<text x="335.9" y="411.9" font-size="8.3" font-weight="bold">j</text>
<line x1="398.6" y1="409.8" x2="411.9" y2="409.8" stroke="#1f78b8" stroke-width="1.3"/>
<text x="416" y="412.7" font-size="8.3">manta</text>
<line x1="441.9" y1="409.8" x2="455.2" y2="409.8" stroke="#e6a01c" stroke-width="1.3"/>
<text x="459.2" y="412.7" font-size="8.3">miniwalk−long−read</text>
<line x1="536.8" y1="409.8" x2="549.2" y2="409.8" stroke="#6fcf9c" stroke-width="1.3"/>
<text x="552.9" y="412.7" font-size="8.3">miniwalk−short−read</text>
<polyline points="356.6,440.29 362.78,441.03 373.72,441.37 376.07,441.78 385.11,442.11 389.35,442.52 393.68,443.42 401.8,443.59 405.32,443.81 414.62,443.99 416.96,444.21 425.7,444.39 428.6,444.61 432.31,445.65 441.43,445.87 444.3,446.15 452.94,446.37 456.3,446.64 464.61,446.86 468.3,447.14 475.57,448.18 480.2,452.2 488.55,452.97 490.24,453.91 498.72,454.68 500.29,455.62 507.46,456.3 510.79,457.11 516.97,462.18 525.23,462.58 527.79,463.07 535.2,466.05 545.87,467.05 550.5,468.28 563.23,470.69 565.48,473.64 577.12,476.66 580.78,480.34 590.43,481.21 594.45,482.28 605.45,483.15 608.13,484.21 620.07,487.23 626.2,490.91 633.29,492.39 636.79,494.19 645.72,495.66 647.37,497.47 655.34,504.76 660.04,508.78 661.89,522.41 664.73,539.01 665.6,550.77" fill="none" stroke="#e6a01c" stroke-width="1.5" stroke-linejoin="round"/>
<polyline points="356.6,515.18 365.25,516.08 373.39,516.48 375.14,516.97 418.4,517.42 477.11,517.72 478.96,519.65 486.22,519.99 489.62,520.4 497.06,520.73 500.29,521.14 512.04,522.28 514.99,523.67 526.55,524.12 528.4,525.61 536.27,525.82 538.88,526.08 546.84,526.3 549.35,526.56 556.89,526.78 559.83,527.04 567.08,527.25 570.3,527.51 579.01,527.73 580.78,527.99 591,528.26 592.88,528.59 601.15,528.85 604.98,529.18 614.22,529.45 617.09,529.78 624.88,530.09 628.26,530.47 637.76,530.78 639.44,531.17 647.94,531.48 650.61,531.86 655.34,534.69 660.04,536.11 661.21,540.05 663.59,544.82 665.23,553.01 665.6,564.77" fill="none" stroke="#6fcf9c" stroke-width="1.5" stroke-linejoin="round"/>
<polyline points="356.6,522.63 362.32,530.82 372.26,531.96 374.4,533.35 380.87,533.44 383.92,533.55 390.55,533.64 393.43,533.75 401.04,533.84 402.95,533.95 426,534.24 433.41,534.32 435.87,534.41 443.36,534.49 445.73,534.58 452.83,534.65 455.6,534.75 462.42,534.82 465.46,534.91 473.66,534.99 475.33,535.08 483.65,535.16 485.19,535.25 491.93,535.32 495.06,535.42 502.59,535.49 504.92,535.58 511.39,536.12 514.19,536.78 522.65,536.83 524.15,536.89 531.72,536.94 534.1,537.01 541.13,537.06 544.06,537.12 552.07,537.18 554.02,537.24 560.6,537.29 563.97,537.35 570.64,537.41 573.93,537.47 582.33,537.52 583.89,537.59 592.3,537.64 593.84,537.7 601.23,537.75 603.8,537.82 611.08,537.87 614.8,537.94 623.31,537.99 625.8,538.06 634.67,538.11 636.8,538.18 645.22,538.23 647.8,538.29 657.09,538.35 658.8,538.41 664.67,540.8" fill="none" stroke="#1f78b8" stroke-width="1.5" stroke-linejoin="round"/>
<line x1="356.6" y1="416.9" x2="356.6" y2="567.65" stroke="#909090" stroke-width="0.65"/>
<line x1="356.25" y1="567.3" x2="668.2" y2="567.3" stroke="#909090" stroke-width="0.65"/>
<text x="355" y="570.7" font-size="8.3" text-anchor="end">0.0</text>
<line x1="355.4" y1="567.3" x2="356.6" y2="567.3" stroke="#909090" stroke-width="0.6"/>
<text x="355" y="555.81" font-size="8.3" text-anchor="end">0.1</text>
<line x1="355.4" y1="552.41" x2="356.6" y2="552.41" stroke="#909090" stroke-width="0.6"/>
<text x="355" y="540.92" font-size="8.3" text-anchor="end">0.2</text>
<line x1="355.4" y1="537.52" x2="356.6" y2="537.52" stroke="#909090" stroke-width="0.6"/>
<text x="355" y="526.03" font-size="8.3" text-anchor="end">0.3</text>
<line x1="355.4" y1="522.63" x2="356.6" y2="522.63" stroke="#909090" stroke-width="0.6"/>
<text x="355" y="511.14" font-size="8.3" text-anchor="end">0.4</text>
<line x1="355.4" y1="507.74" x2="356.6" y2="507.74" stroke="#909090" stroke-width="0.6"/>
<text x="355" y="496.25" font-size="8.3" text-anchor="end">0.5</text>
<line x1="355.4" y1="492.85" x2="356.6" y2="492.85" stroke="#909090" stroke-width="0.6"/>
<text x="355" y="481.36" font-size="8.3" text-anchor="end">0.6</text>
<line x1="355.4" y1="477.96" x2="356.6" y2="477.96" stroke="#909090" stroke-width="0.6"/>
<text x="355" y="466.47" font-size="8.3" text-anchor="end">0.7</text>
<line x1="355.4" y1="463.07" x2="356.6" y2="463.07" stroke="#909090" stroke-width="0.6"/>
<text x="355" y="451.58" font-size="8.3" text-anchor="end">0.8</text>
<line x1="355.4" y1="448.18" x2="356.6" y2="448.18" stroke="#909090" stroke-width="0.6"/>
<text x="355" y="436.69" font-size="8.3" text-anchor="end">0.9</text>
<line x1="355.4" y1="433.29" x2="356.6" y2="433.29" stroke="#909090" stroke-width="0.6"/>
<text x="355" y="421.8" font-size="8.3" text-anchor="end">1.0</text>
<line x1="355.4" y1="418.4" x2="356.6" y2="418.4" stroke="#909090" stroke-width="0.6"/>
<text x="359.2" y="572.5" font-size="8.3" text-anchor="end" transform="rotate(-45 359.2 572.5)">0.00</text>
<text x="436.45" y="572.5" font-size="8.3" text-anchor="end" transform="rotate(-45 436.45 572.5)">0.25</text>
<text x="513.7" y="572.5" font-size="8.3" text-anchor="end" transform="rotate(-45 513.7 572.5)">0.50</text>
<text x="590.95" y="572.5" font-size="8.3" text-anchor="end" transform="rotate(-45 590.95 572.5)">0.75</text>
<text x="668.2" y="572.5" font-size="8.3" text-anchor="end" transform="rotate(-45 668.2 572.5)">1.00</text>
<text x="512.6" y="591.3" font-size="8.3" text-anchor="middle">Vcfdist partial credit threshold</text>
<text x="341.6" y="492.85" font-size="8.3" text-anchor="middle" transform="rotate(-90 341.6 492.85)">Recall</text>
</svg>
</body>
</html>
